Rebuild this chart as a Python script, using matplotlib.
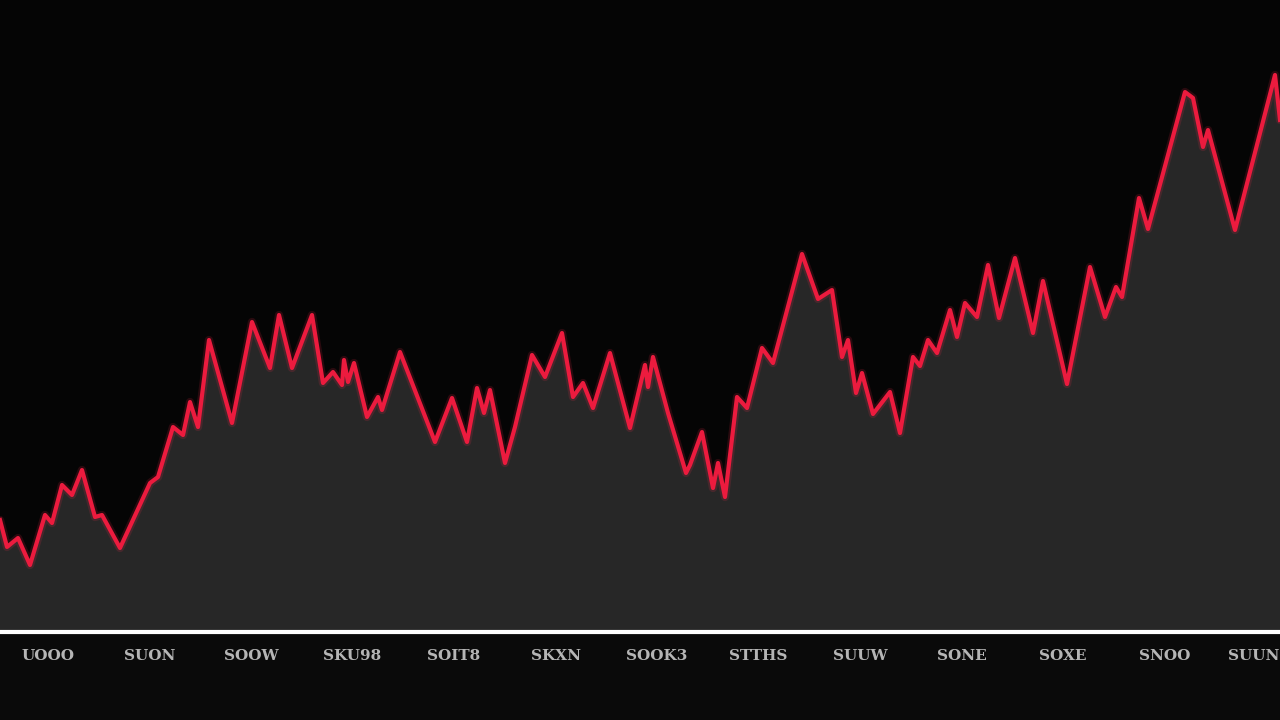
import matplotlib
matplotlib.use("Agg")
import matplotlib.pyplot as plt
import numpy as np

# ---- data ----
x_vals = [0, 7, 18, 30, 45, 52, 62, 72, 82, 95, 102, 120, 150, 158, 173, 183, 190, 198,
          209, 232, 252, 270, 279, 292, 312, 323, 333, 342, 344, 348, 354, 367, 378, 382,
          400, 435, 452, 467, 477, 484, 490, 505, 515, 532, 545, 562, 573, 583, 593, 610,
          630, 645, 648, 653, 668, 686, 690, 702, 713, 718, 725, 737, 747, 762, 773, 802,
          818, 832, 842, 848, 856, 862, 873, 890, 900, 913, 920, 928, 937, 950, 957, 965,
          977, 988, 999, 1015, 1033, 1043, 1067, 1090, 1105, 1116, 1122, 1139, 1148, 1185,
          1193, 1203, 1208, 1235, 1275, 1280]
y_vals = [112, 85, 94, 67, 117, 109, 147, 137, 162, 115, 117, 84, 149, 155, 205, 197, 230, 205,
          292, 209, 310, 264, 317, 264, 317, 249, 260, 247, 272, 250, 269, 215, 235, 222,
          280, 190, 234, 190, 244, 219, 242, 169, 205, 277, 255, 299, 235, 249, 224, 279,
          204, 267, 245, 275, 219, 159, 167, 200, 144, 169, 135, 235, 224, 284, 269, 378,
          333, 342, 275, 292, 239, 259, 218, 240, 199, 275, 266, 292, 279, 322, 295, 329,
          315, 367, 314, 374, 299, 351, 248, 365, 315, 345, 335, 434, 403, 540,
          534, 485, 502, 402, 557, 512]
tick_pos = [48, 149.5, 251, 352.5, 454, 555.5, 657, 758.5, 860, 961.5, 1063, 1164.5, 1254]
tick_labels = ["UOOO", "SUON", "SOOW", "SKU98", "SOIT8", "SKXN", "SOOK3", "STTHS",
               "SUUW", "SONE", "SOXE", "SNOO", "SUUN"]

fig = plt.figure(figsize=(12.8, 7.2), dpi=100, facecolor="#0a0a0a")
ax = fig.add_axes([0, (720 - 632) / 720, 1, 632 / 720])
ax.set_facecolor("#050505")

ax.fill_between(x_vals, y_vals, 0, color="#272727", linewidth=0, zorder=1)
# subtle glow
ax.plot(x_vals, y_vals, color="#ff2a4a", linewidth=6, alpha=0.15,
        solid_joinstyle="round", solid_capstyle="round", zorder=2)
ax.plot(x_vals, y_vals, color="#ec1b3e", linewidth=3.0,
        solid_joinstyle="round", zorder=3)

ax.set_xlim(0, 1280)
ax.set_ylim(0, 632)
ax.axhline(0, color="white", linewidth=3, zorder=5, clip_on=False)

for s in ax.spines.values():
    s.set_visible(False)
ax.set_yticks([])
ax.set_xticks(tick_pos)
ax.set_xticklabels(tick_labels, fontsize=11, color="#b5b5b5", family="DejaVu Serif",
                   fontweight="bold")
ax.tick_params(axis="x", length=0, pad=12)

fig.savefig("out.png", dpi=100, facecolor=fig.get_facecolor())
